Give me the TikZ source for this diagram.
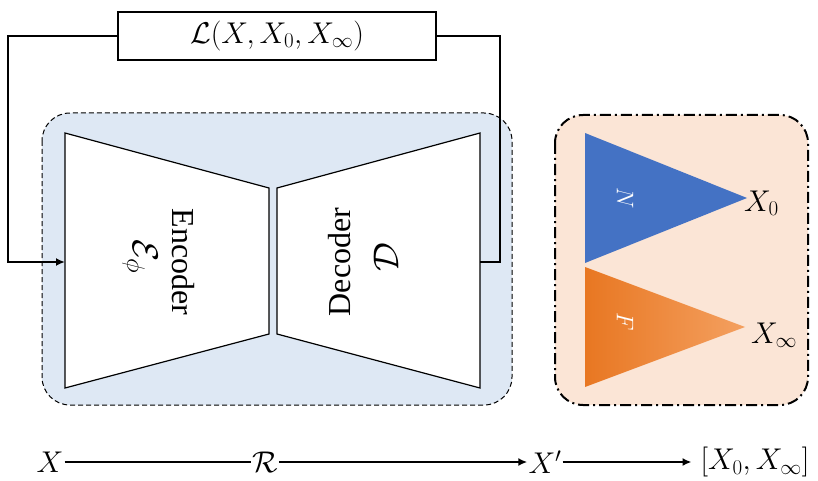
\RequirePackage{fix-cm}
\documentclass[tikz,border=0pt]{standalone}
\usepackage{fontspec}
\setmainfont{Liberation Serif}
\usetikzlibrary{arrows.meta}
\definecolor{bluebg}{HTML}{DEE8F4}
\definecolor{orangebg}{HTML}{FBE5D6}
\definecolor{nblue}{HTML}{4472C4}
\definecolor{forange}{HTML}{E87722}
\definecolor{forange2}{HTML}{F4A060}
\begin{document}
\begin{tikzpicture}[x=1pt,y=-1pt,
  line/.style={line width=2pt,-{Latex[length=9pt,width=8pt]}},
  plain/.style={line width=2pt},
  trap/.style={draw=black,fill=white,line width=1.2pt},
  lbl/.style={font=\fontsize{32}{34}\selectfont,inner sep=1pt},
  mth/.style={font=\fontsize{30}{32}\selectfont,inner sep=1pt}]
\useasboundingbox (0,0) rectangle (818,481);
% containers
\draw[dash pattern=on 5pt off 3pt,line width=1pt,fill=bluebg,rounded corners=28pt] (42,113) rectangle (512,405);
\draw[dash pattern=on 11pt off 4pt on 2pt off 4pt,line width=2pt,fill=orangebg,rounded corners=28pt] (555,115) rectangle (808,405);
% encoder / decoder
\draw[trap] (65,133) -- (269,188) -- (269,334) -- (65,388) -- cycle;
\draw[trap] (480,133) -- (277,188) -- (277,334) -- (480,388) -- cycle;
\coordinate (encin) at (65,262);
\coordinate (decout) at (480,262);
\node[lbl,rotate=-90] (enc) at (183,262) {Encoder};
\node[rotate=-90,font=\fontsize{36}{38}\selectfont,inner sep=1pt] (encm) at (140,257) {$\mathcal{E}_\phi$};
\node[lbl,rotate=90] (dec) at (340,262) {Decoder};
\node[rotate=90,font=\fontsize{36}{38}\selectfont,inner sep=1pt] (decm) at (386,257) {$\mathcal{D}$};
% triangles
\fill[nblue] (585,133) -- (747,198) -- (585,263) -- cycle;
\shade[left color=forange,right color=forange2] (585,267) -- (745,327) -- (585,387) -- cycle;
\node[rotate=-90,text=white,font=\fontsize{24}{26}\selectfont] (nl) at (625,198) {$N$};
\node[rotate=-90,text=white,font=\fontsize{24}{26}\selectfont] (fl) at (625,322) {$F$};
\node[mth,anchor=west] (x0) at (743,203) {$X_0$};
\node[mth,anchor=west] (xinf) at (750,335) {$X_\infty$};
% loss
\node[draw,line width=1.2pt,minimum width=318pt,minimum height=48pt,mth] (loss) at (277,36) {$\mathcal{L}(X,X_0,X_\infty)$};
\coordinate (c1) at (8,36);
\coordinate (c2) at (8,262);
\coordinate (c3) at (500,262);
\coordinate (c4) at (500,36);
\draw[line] (loss.west) -- (c1) -- (c2) -- (encin);
\draw[plain] (decout) -- (c3) -- (c4) -- (loss.east);
% bottom
\node[mth] (X) at (50,462) {$X$};
\node[mth] (R) at (265,462) {$\mathcal{R}$};
\node[mth] (Xp) at (545,462) {$X'$};
\node[mth] (out) at (755,462) {$[X_0,X_\infty]$};
\draw[plain] (X.east) -- (R.west);
\draw[line] (R.east) -- (Xp.west);
\draw[line] (Xp.east) -- ([xshift=-8pt]out.west);
\end{tikzpicture}
\end{document}
